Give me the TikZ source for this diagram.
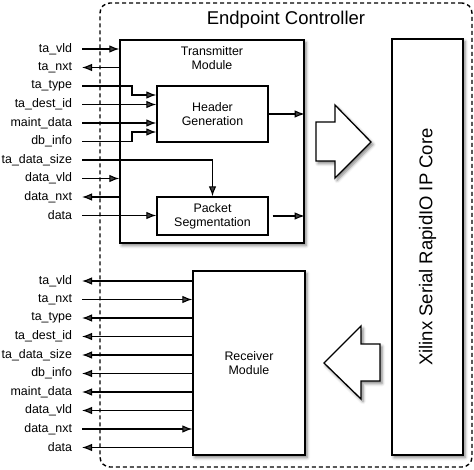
\documentclass[tikz,border=0pt]{standalone}
\usepackage{fontspec}
\setmainfont{Liberation Sans}
\usetikzlibrary{positioning,arrows.meta,shadows.blur}

\begin{document}
\begin{tikzpicture}[x=1pt,y=-1pt,
    font=\fontsize{12.4}{14}\selectfont,
    box/.style={draw,line width=1.3pt,fill=white,inner sep=0pt,align=center},
    shadowed/.style={blur shadow={shadow xshift=2pt,shadow yshift=-2.5pt,shadow blur radius=3pt,shadow opacity=50}},
    sig/.style={anchor=east,inner sep=0pt,outer xsep=10pt},
    wire/.style={line width=1.1pt,-{Latex[length=10pt,width=7.5pt]}},
    bigtext/.style={font=\fontsize{18.5}{22}\selectfont}]
    \useasboundingbox (0,0) rectangle (474,470);

    % controller frame
    \node[draw,dash pattern=on 4pt off 3pt,line width=1.4pt,rounded corners=10pt,
          minimum width=372pt,minimum height=464pt] (ec) at (286,235) {};
    \node[bigtext] (ectitle) at (286,20) {Endpoint Controller};

    % blocks
    \node[box,shadowed,minimum width=184pt,minimum height=203pt] (tx) at (212,141.5) {};
    \node[anchor=north,align=center] (txname) at ([yshift=-4pt]tx.north) {Transmitter\\Module};
    \node[box,minimum width=111pt,minimum height=56pt] (hd) at (212.5,114) {Header\\Generation};
    \node[box,minimum width=111pt,minimum height=38pt] (ps) at (212.5,216) {Packet\\Segmentation};
    \node[box,shadowed,minimum width=112pt,minimum height=184pt] (rx) at (249,363) {Receiver\\Module};
    \node[box,shadowed,minimum width=71pt,minimum height=416pt] (ip) at (427.5,247) {};
    \node[bigtext,rotate=90] (ipname) at (ip) {Xilinx Serial RapidIO IP Core};

    % wide arrows
    \draw[line width=1.3pt,fill=white,shadowed] (316,122) -- (335,122) -- (335,105) -- (371,142)
        -- (335,178) -- (335,161) -- (316,161) -- cycle;
    \draw[line width=1.3pt,fill=white,shadowed] (380,344) -- (361,344) -- (361,326) -- (324,363)
        -- (361,399) -- (361,381) -- (380,381) -- cycle;

    % transmitter signals
    \node[sig] (t1) at (82,49) {ta\_vld};
    \node[sig,below=18.5pt of t1.east,anchor=east] (t2) {ta\_nxt};
    \node[sig,below=18.5pt of t2.east,anchor=east] (t3) {ta\_type};
    \node[sig,below=18.5pt of t3.east,anchor=east] (t4) {ta\_dest\_id};
    \node[sig,below=18.5pt of t4.east,anchor=east] (t5) {maint\_data};
    \node[sig,below=18.5pt of t5.east,anchor=east] (t6) {db\_info};
    \node[sig,below=18.5pt of t6.east,anchor=east] (t7) {ta\_data\_size};
    \node[sig,below=18.5pt of t7.east,anchor=east] (t8) {data\_vld};
    \node[sig,below=18.5pt of t8.east,anchor=east] (t9) {data\_nxt};
    \node[sig,below=18.5pt of t9.east,anchor=east] (t10) {data};

    \draw[wire] (t1.east) -- (t1.east -| tx.west);
    \draw[wire] (t2.east -| tx.west) -- (t2.east);
    \draw[wire] (t3.east) -- ++(50,0) |- ([yshift=19pt]hd.west);
    \draw[wire] (t4.east) -- (t4.east -| hd.west);
    \draw[wire] (t5.east) -- (t5.east -| hd.west);
    \draw[wire] (t6.east) -- ++(50,0) |- ([yshift=-18pt]hd.west);
    \draw[wire] (t7.east) -| (ps.north);
    \draw[wire] (t8.east) -- (t8.east -| tx.west);
    \draw[wire] (t9.east -| tx.west) -- (t9.east);
    \draw[wire] (t10.east) -- (t10.east -| ps.west);
    \draw[wire] (hd.east) -- (hd.east -| tx.east);
    \draw[wire,shorten <=4pt] (ps.east) -- (ps.east -| tx.east);

    % receiver signals
    \node[sig] (r1) at (82,281) {ta\_vld};
    \node[sig,below=18.5pt of r1.east,anchor=east] (r2) {ta\_nxt};
    \node[sig,below=18.5pt of r2.east,anchor=east] (r3) {ta\_type};
    \node[sig,below=18.5pt of r3.east,anchor=east] (r4) {ta\_dest\_id};
    \node[sig,below=18.5pt of r4.east,anchor=east] (r5) {ta\_data\_size};
    \node[sig,below=18.5pt of r5.east,anchor=east] (r6) {db\_info};
    \node[sig,below=18.5pt of r6.east,anchor=east] (r7) {maint\_data};
    \node[sig,below=18.5pt of r7.east,anchor=east] (r8) {data\_vld};
    \node[sig,below=18.5pt of r8.east,anchor=east] (r9) {data\_nxt};
    \node[sig,below=18.5pt of r9.east,anchor=east] (r10) {data};

    \draw[wire] (r1.east -| rx.west) -- (r1.east);
    \draw[wire] (r2.east) -- (r2.east -| rx.west);
    \draw[wire] (r3.east -| rx.west) -- (r3.east);
    \draw[wire] (r4.east -| rx.west) -- (r4.east);
    \draw[wire] (r5.east -| rx.west) -- (r5.east);
    \draw[wire] (r6.east -| rx.west) -- (r6.east);
    \draw[wire] (r7.east -| rx.west) -- (r7.east);
    \draw[wire] (r8.east -| rx.west) -- (r8.east);
    \draw[wire] (r9.east) -- (r9.east -| rx.west);
    \draw[wire] (r10.east -| rx.west) -- (r10.east);
\end{tikzpicture}
\end{document}
